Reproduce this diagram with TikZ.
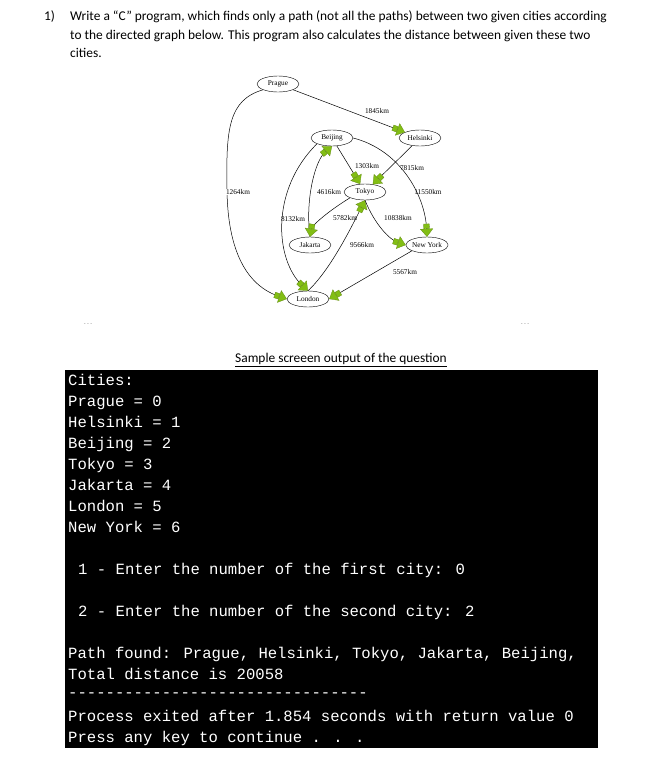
\documentclass[tikz,border=0pt]{standalone}
\usepackage{fontspec}
\setmainfont{Carlito}
\newfontfamily\grf{Liberation Serif}
\newfontfamily\term{Liberation Mono}
\usetikzlibrary{arrows.meta,shapes.geometric}
\definecolor{ag}{RGB}{130,190,20}
\definecolor{ago}{RGB}{100,140,20}
\tikzset{
 city/.style={ellipse,draw,thin,minimum width=42pt,minimum height=16pt,inner sep=0pt,font=\grf\fontsize{7.3}{8}\selectfont},
 lbl/.style={font=\grf\fontsize{7.3}{8}\selectfont,inner sep=0.5pt},
 ed/.style={draw,line width=0.5pt,-{Rectangle[width=6pt,length=5pt,fill=ag,color=ago,line width=0.3pt]Triangle[width=13pt,length=8pt,fill=ag,color=ago,line width=0.3pt]}},
 tl/.style={anchor=base west,text=white,font=\term\fontsize{15.6}{18}\selectfont,inner sep=0pt},
 hd/.style={anchor=base west,inner sep=0pt,font=\fontsize{13.4}{15}\selectfont},
}
\begin{document}
\begin{tikzpicture}[x=1pt,y=-1pt]
\useasboundingbox (0,0) rectangle (663,761);
\node[hd] (h0) at (44,20) {1)};
\node[hd] (h1) at (70,20) {Write a “C” program, which finds only a path (not all the paths) between two given cities according};
\node[hd] (h2) at (70,39) {to the directed graph below. This program also calculates the distance between given these two};
\node[hd] (h3) at (70,57) {cities.};
% graph
\node[city] (P) at (278,84) {Prague};
\node[city] (H) at (420,138) {Helsinki};
\node[city] (B) at (332,138) {Beijing};
\node[city] (T) at (365,192) {Tokyo};
\node[city] (J) at (310,245) {Jakarta};
\node[city] (N) at (427,245) {New York};
\node[city] (L) at (308,299) {London};
\draw[ed] (P) -- (H);
\draw[ed] (P.south west) .. controls (228,100) and (226,130) .. (227,190) .. controls (228,270) and (260,290) .. (L.west);
\draw[ed] (H) -- (T);
\draw[ed] (B) -- (T);
\draw[ed] (B.east) .. controls (400,150) and (425,195) .. (N.north);
\draw[ed] (J.north) .. controls (305,200) and (315,160) .. (B.south);
\draw[ed] (B.south west) .. controls (270,190) and (275,260) .. (L.north);
\draw[ed] (T.south west) .. controls (330,210) and (312,225) .. (J.north);
\draw[ed] (L.north) .. controls (330,270) and (350,230) .. (T.south);
\draw[ed] (T.south) .. controls (375,225) and (390,240) .. (N.west);
\draw[ed] (N.south west) -- (L.east);
\node[lbl,fill=white] (l1) at (377,111) {1845km};
\node[lbl,fill=white] (l2) at (238,192) {1264km};
\node[lbl] (l3) at (412,168) {7815km};
\node[lbl] (l4) at (367,166) {1303km};
\node[lbl] (l5) at (428,192) {11550km};
\node[lbl] (l6) at (329,192) {4616km};
\node[lbl] (l7) at (293,219) {8132km};
\node[lbl] (l8) at (345,218) {5782km};
\node[lbl] (l9) at (362,245) {9566km};
\node[lbl] (l10) at (398,218) {10838km};
\node[lbl] (l11) at (405,272) {5567km};
\node[font=\fontsize{6}{6}\selectfont,text=gray] (d1) at (88,325) {- - -};
\node[font=\fontsize{6}{6}\selectfont,text=gray] (d2) at (525,325) {- - -};
\node[font=\fontsize{13.4}{15}\selectfont,inner sep=0pt] (cap) at (341,360) {\underline{Sample screeen output of the question}};
% terminal
\fill[black] (65,370) rectangle (598,748);
\begin{scope}
\clip (65,370) rectangle (598,748);
\node[tl] (c0) at (68,385) {Cities:};
\node[tl] (c1) at (68,406) {Prague = 0};
\node[tl] (c2) at (68,427) {Helsinki = 1};
\node[tl] (c3) at (68,448) {Beijing = 2};
\node[tl] (c4) at (68,469) {Tokyo = 3};
\node[tl] (c5) at (68,490) {Jakarta = 4};
\node[tl] (c6) at (68,511) {London = 5};
\node[tl] (c7) at (68,532) {New York = 6};
\node[tl] (c8) at (78,574) {1 - Enter the number of the first city: 0};
\node[tl] (c9) at (78,616) {2 - Enter the number of the second city: 2};
\node[tl] (c10) at (68,658) {Path found: Prague, Helsinki, Tokyo, Jakarta, Beijing,};
\node[tl] (c11) at (68,679) {Total distance is 20058};
\node[tl] (c12) at (68,697) {--------------------------------};
\node[tl] (c13) at (68,721) {Process exited after 1.854 seconds with return value 0};
\node[tl] (c14) at (68,742) {Press any key to continue . . .};
\end{scope}
\end{tikzpicture}
\end{document}
